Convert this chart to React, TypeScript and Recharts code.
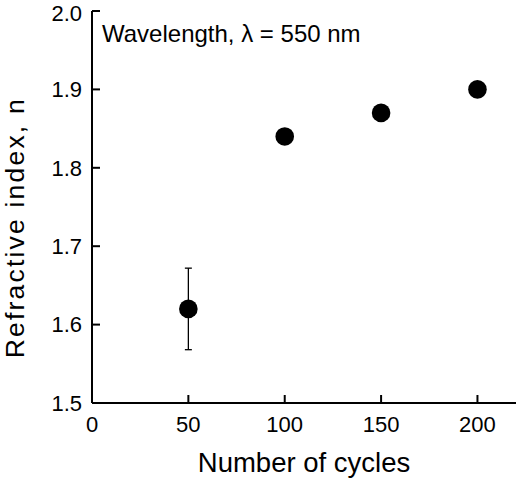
import { ScatterChart, Scatter, XAxis, YAxis, ErrorBar, Customized } from 'recharts';

// Índice de refracción frente a número de ciclos (λ = 550 nm)
const cycles = [50, 100, 150, 200];
const refractiveIndex = [1.62, 1.84, 1.87, 1.9];
const errors = [0.052, 0, 0, 0];

const xTicks = [0, 50, 100, 150, 200];
const yTicks = [1.5, 1.6, 1.7, 1.8, 1.9, 2.0];

const data = cycles.map((c, i) => ({ x: c, y: refractiveIndex[i], err: errors[i] }));

const FONT = '"Liberation Sans", Arial, Helvetica, sans-serif';
const axisLine = { stroke: '#000', strokeWidth: 2 };

function Dot(props: any) {
  return <circle cx={props.cx} cy={props.cy} r={9.3} fill="#000" />;
}

export default function App() {
  return (
    <div style={{ width: 520, height: 478, background: '#fff' }}>
      <style>{'body{margin:0}'}</style>
      <ScatterChart
        width={520}
        height={478}
        margin={{ top: 11, right: 4, left: 0, bottom: 0 }}
        style={{ fontFamily: FONT }}
      >
        <XAxis
          type="number"
          dataKey="x"
          domain={[0, 220]}
          ticks={xTicks}
          height={75}
          axisLine={axisLine}
          tickLine={{ stroke: '#000', strokeWidth: 2 }}
          tickSize={-8}
          tickMargin={21}
          tick={{ fill: '#000', fontSize: 22 }}
          label={{
            content: (p: any) => (
              <text
                x={p.viewBox.x + p.viewBox.width / 2}
                y={471.7}
                textAnchor="middle"
                fontSize={27.5}
                fill="#000"
              >
                Number of cycles
              </text>
            ),
          }}
        />
        <YAxis
          type="number"
          dataKey="y"
          domain={[1.5, 2.0]}
          ticks={yTicks}
          width={92}
          axisLine={axisLine}
          tickLine={{ stroke: '#000', strokeWidth: 2 }}
          tickSize={-8}
          tickMargin={18}
          tick={{ fill: '#000', fontSize: 22 }}
          tickFormatter={(v: number) => v.toFixed(1)}
          label={{
            content: () => (
              <text
                x={24.5}
                y={228.8}
                transform="rotate(-90, 24.5, 228.8)"
                textAnchor="middle"
                fontSize={26.5}
                fill="#000"
                textLength={259}
                lengthAdjust="spacing"
              >
                Refractive index, n
              </text>
            ),
          }}
        />
        {/* marco superior y derecho */}
        <XAxis
          xAxisId="top"
          orientation="top"
          type="number"
          domain={[0, 220]}
          height={0}
          tick={false}
          tickLine={false}
          axisLine={axisLine}
        />
        <YAxis
          yAxisId="right"
          orientation="right"
          type="number"
          domain={[1.5, 2.0]}
          width={0}
          tick={false}
          tickLine={false}
          axisLine={axisLine}
        />
        <Scatter data={data} shape={Dot} isAnimationActive={false}>
          <ErrorBar dataKey="err" direction="y" width={3.5} stroke="#000" strokeWidth={1.3} />
        </Scatter>
        <Customized
          component={() => (
            <text x={102} y={41.7} fontSize={24} fill="#000" fontFamily={FONT}>
              Wavelength, λ = 550 nm
            </text>
          )}
        />
      </ScatterChart>
    </div>
  );
}
